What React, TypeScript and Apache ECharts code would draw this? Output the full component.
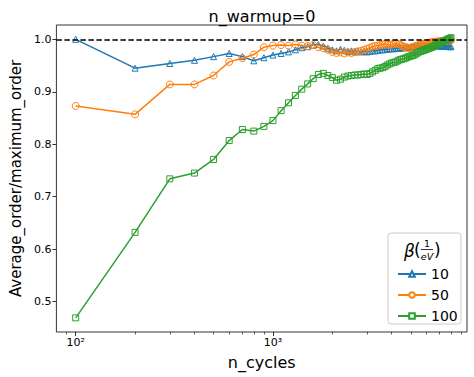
import React, { useEffect, useRef } from "react";
import * as echarts from "echarts";

const nCycles = [
  100, 200, 300, 400, 500, 600, 700, 800, 900, 1000,
  1100, 1200, 1300, 1400, 1500, 1600, 1700, 1800, 1900, 2000,
  2100, 2200, 2300, 2400, 2500, 2600, 2700, 2800, 2900, 3000,
  3100, 3200, 3300, 3400, 3500, 3600, 3700, 3800, 3900, 4000,
  4100, 4200, 4300, 4400, 4500, 4600, 4700, 4800, 4900, 5000,
  5100, 5200, 5300, 5400, 5500, 5600, 5700, 5800, 5900, 6000,
  6100, 6200, 6300, 6400, 6500, 6600, 6700, 6800, 6900, 7000,
  7100, 7200, 7300, 7400, 7500, 7600, 7700, 7800, 7900, 8000,
];

const beta10 = [
  1.0, 0.945, 0.954, 0.96, 0.967, 0.973, 0.967, 0.959, 0.965, 0.97,
  0.973, 0.976, 0.98, 0.984, 0.986, 0.989, 0.99, 0.987, 0.983, 0.98,
  0.978, 0.981, 0.979, 0.977, 0.978, 0.976, 0.977, 0.976, 0.977, 0.976,
  0.977, 0.978, 0.978, 0.979, 0.98, 0.98, 0.981, 0.981, 0.982, 0.982,
  0.982, 0.983, 0.983, 0.983, 0.984, 0.984, 0.984, 0.985, 0.985, 0.985,
  0.986, 0.986, 0.986, 0.987, 0.987, 0.987, 0.988, 0.988, 0.988, 0.988,
  0.988, 0.989, 0.989, 0.989, 0.989, 0.988, 0.988, 0.988, 0.988, 0.988,
  0.987, 0.987, 0.987, 0.987, 0.987, 0.987, 0.987, 0.986, 0.986, 0.986,
];

const beta50 = [
  0.873, 0.857, 0.914, 0.914, 0.931, 0.957, 0.964, 0.971, 0.985, 0.988,
  0.989, 0.988, 0.99, 0.988, 0.987, 0.989, 0.985, 0.983, 0.98, 0.976,
  0.974, 0.975, 0.973, 0.975, 0.974, 0.976, 0.977, 0.978, 0.98, 0.982,
  0.984, 0.986, 0.987, 0.988, 0.989, 0.99, 0.991, 0.99, 0.989, 0.99,
  0.991, 0.992, 0.991, 0.99, 0.988, 0.986, 0.985, 0.984, 0.983, 0.984,
  0.985, 0.986, 0.987, 0.988, 0.989, 0.99, 0.99, 0.991, 0.992, 0.992,
  0.993, 0.993, 0.994, 0.994, 0.995, 0.995, 0.995, 0.996, 0.996, 0.996,
  0.996, 0.997, 0.997, 0.997, 0.997, 0.997, 0.998, 0.998, 0.998, 0.998,
];

const beta100 = [
  0.469, 0.632, 0.734, 0.745, 0.771, 0.807, 0.828, 0.825, 0.834, 0.845,
  0.864, 0.879, 0.893, 0.905, 0.915, 0.925, 0.933, 0.935, 0.931, 0.927,
  0.922, 0.924, 0.928, 0.93, 0.931, 0.932, 0.932, 0.933, 0.934, 0.933,
  0.935, 0.938, 0.941, 0.944, 0.945, 0.946, 0.948, 0.951, 0.953, 0.955,
  0.956, 0.957, 0.959, 0.961, 0.962, 0.963, 0.964, 0.966, 0.967, 0.968,
  0.969, 0.97, 0.972, 0.974, 0.976, 0.977, 0.978, 0.979, 0.98, 0.981,
  0.982, 0.983, 0.984, 0.985, 0.986, 0.987, 0.989, 0.991, 0.992, 0.993,
  0.994, 0.995, 0.996, 0.997, 0.998, 0.999, 1.0, 1.001, 1.002, 1.003,
];

const seriesNames = ["10", "50", "100"];
const seriesColors = ["#1f77b4", "#ff7f0e", "#2ca02c"];
const seriesSymbols = ["triangle", "circle", "rect"];
const seriesSizes = [6, 7, 6];
const seriesValues = [beta10, beta50, beta100];

const xMajorTicks = [100, 1000];
const xMinorTicks = [90, 200, 300, 400, 500, 600, 700, 800, 900, 2000, 3000, 4000, 5000, 6000, 7000, 8000, 9000];
const yTicks = [0.5, 0.6, 0.7, 0.8, 0.9, 1.0];
const xMajorLabels: Record<number, string> = { 100: "10²", 1000: "10³" };

const FONT = "DejaVu Sans";

export default function App() {
  const ref = useRef<HTMLDivElement>(null);
  useEffect(() => {
    if (!ref.current) return;
    const chart = echarts.init(ref.current, undefined, { renderer: "svg" });
    const xMin = 79.8;
    const xMax = 9640;
    const grid = { left: 47, top: 25, right: 7, bottom: 45, show: true, borderColor: "#000", borderWidth: 0.8, containLabel: false };

    // Legend-icon carriers (no data): hollow markers for the legend
    const legendCarriers: any[] = seriesNames.map((name, i) => ({
      name,
      type: "line",
      data: [],
      symbol: "empty" + seriesSymbols[i].charAt(0).toUpperCase() + seriesSymbols[i].slice(1),
      symbolSize: seriesSizes[i],
      lineStyle: { color: seriesColors[i], width: 1.5 },
      itemStyle: { color: seriesColors[i] },
    }));

    const series: any[] = seriesValues.map((vals, i) => ({
      name: seriesNames[i],
      type: "line",
      xAxisIndex: 0,
      data: nCycles.map((n, j) => [n, vals[j]]),
      symbol: seriesSymbols[i],
      symbolSize: seriesSizes[i],
      showAllSymbol: true,
      lineStyle: { color: seriesColors[i], width: 1.5 },
      itemStyle: { color: "rgba(255,255,255,0)", borderColor: seriesColors[i], borderWidth: 1 },
      emphasis: { disabled: true },
      z: 3 + i,
    }));
    series[0].markLine = {
      silent: true,
      symbol: "none",
      label: { show: false },
      lineStyle: { color: "#000", type: [5.5, 2.5], width: 1.5 },
      data: [{ yAxis: 1 }],
      z: 10,
    };
    chart.setOption({
      animation: false,
      backgroundColor: "#fff",
      textStyle: { fontFamily: FONT },
      title: {
        text: "n_warmup=0",
        left: 257,
        textAlign: "center",
        top: 3,
        textStyle: { fontFamily: FONT, fontSize: 16, fontWeight: "normal", color: "#000" },
      },
      grid,
      xAxis: [
        {
          type: "log",
          logBase: 10,
          min: xMin,
          max: xMax,
          name: "n_cycles",
          nameLocation: "middle",
          nameGap: 22,
          nameTextStyle: { fontFamily: FONT, fontSize: 16, color: "#000" },
          axisLine: { show: false },
          splitLine: { show: false },
          axisTick: { show: true, length: 4, lineStyle: { color: "#000", width: 0.8 }, customValues: xMajorTicks },
          axisLabel: {
            customValues: xMajorTicks,
            formatter: (v: number) => xMajorLabels[Math.round(v)] ?? "",
            fontFamily: FONT,
            fontSize: 11,
            color: "#000",
            margin: 5,
          },
        },
        {
          type: "log",
          logBase: 10,
          min: xMin,
          max: xMax,
          position: "bottom",
          axisLine: { show: false },
          splitLine: { show: false },
          axisLabel: { show: false },
          axisTick: { show: true, length: 2.5, lineStyle: { color: "#000", width: 0.6 }, customValues: xMinorTicks },
        },
      ],
      yAxis: {
        type: "value",
        min: 0.442,
        max: 1.0273,
        name: "Average_order/maximum_order",
        nameLocation: "middle",
        nameGap: 26,
        nameTextStyle: { fontFamily: FONT, fontSize: 15, color: "#000" },
        axisLine: { show: false },
        splitLine: { show: false },
        axisTick: { show: true, length: 4, lineStyle: { color: "#000", width: 0.8 }, customValues: yTicks },
        axisLabel: {
          customValues: yTicks,
          formatter: (v: number) => v.toFixed(1),
          fontFamily: FONT,
          fontSize: 11,
          color: "#000",
          margin: 5,
        },
      },
      legend: {
        data: seriesNames,
        orient: "vertical",
        left: 392,
        top: 262,
        itemWidth: 28,
        itemHeight: 7,
        itemGap: 7,
        textStyle: { fontFamily: FONT, fontSize: 14, color: "#000", fontWeight: "normal" },
        selectedMode: false,
        z: 20,
      },
      graphic: [
        {
          type: "rect",
          z: 15,
          shape: { x: 388, y: 233, width: 73, height: 91, r: 3 },
          style: { fill: "rgba(255,255,255,0.8)", stroke: "#ccc", lineWidth: 1 },
        },
        { type: "text", z: 16, x: 404, y: 251, style: { text: "β", font: `italic 17px "${FONT}"`, fill: "#000", verticalAlign: "middle", align: "left" } },
        { type: "text", z: 16, x: 414, y: 250, style: { text: "(", font: `17px "${FONT}"`, fill: "#000", verticalAlign: "middle", align: "left" } },
        { type: "text", z: 16, x: 427, y: 243, style: { text: "1", font: `9.5px "${FONT}"`, fill: "#000", verticalAlign: "middle", align: "center" } },
        { type: "line", z: 16, shape: { x1: 421, y1: 249.5, x2: 433, y2: 249.5 }, style: { stroke: "#000", lineWidth: 0.8 } },
        { type: "text", z: 16, x: 427, y: 256.5, style: { text: "eV", font: `italic 9.5px "${FONT}"`, fill: "#000", verticalAlign: "middle", align: "center" } },
        { type: "text", z: 16, x: 434, y: 250, style: { text: ")", font: `17px "${FONT}"`, fill: "#000", verticalAlign: "middle", align: "left" } },
      ],
      series: [...legendCarriers, ...series],
    });
    return () => chart.dispose();
  }, []);
  return <div ref={ref} style={{ position: "fixed", left: 0, top: 0, width: 474, height: 377 }} />;
}
